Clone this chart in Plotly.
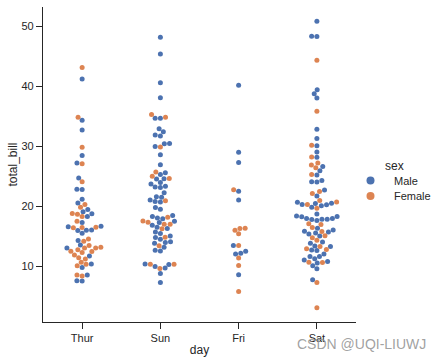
import numpy as np
import plotly.graph_objects as go

days = ["Thur", "Sun", "Fri", "Sat"]

thur_bill = [27.2, 22.76, 17.29, 19.44, 16.66, 10.07, 32.68, 15.98, 34.83, 13.03, 18.28, 24.71, 21.16,
             10.65, 12.43, 24.08, 11.69, 13.42, 14.26, 15.95, 12.48, 29.8, 8.52, 14.52, 11.38, 22.82,
             19.08, 20.27, 11.17, 12.26, 18.26, 8.51, 10.33, 14.15, 16.0, 13.16, 17.47, 34.3, 41.19,
             27.05, 16.43, 8.35, 18.64, 11.87, 9.78, 7.51,
             19.81, 28.44, 15.48, 16.58, 7.56, 10.34, 43.11, 13.0, 13.51, 18.71, 12.74, 13.0, 16.4,
             20.53, 16.47, 18.78]
thur_sex = ["M", "M", "M", "M", "M", "F", "M", "M", "F", "M", "M", "M", "M",
            "F", "F", "F", "M", "F", "M", "M", "F", "F", "M", "F", "F", "M",
            "M", "F", "F", "F", "F", "F", "F", "F", "M", "F", "F", "M", "M",
            "F", "F", "F", "F", "F", "M", "M",
            "F", "M", "M", "M", "M", "M", "F", "F", "M", "M", "F", "F", "F",
            "M", "F", "F"]

sun_bill = [16.99, 10.34, 21.01, 23.68, 24.59, 25.29, 8.77, 26.88, 15.04, 14.78, 10.27, 35.26, 15.42,
            18.43, 14.83, 21.58, 10.33, 16.29, 16.97,
            17.46, 13.94, 9.68, 30.4, 18.29, 22.23, 32.4, 28.55, 18.04, 12.54, 10.29, 34.81, 9.94,
            25.56, 19.49,
            38.07, 23.95, 25.71, 17.31, 29.93,
            14.07, 13.13, 17.26, 24.55, 19.77, 29.85, 48.17, 25.0, 13.39, 16.49, 21.5, 12.66, 16.21,
            13.81, 17.51, 24.52, 20.76, 31.71,
            7.25, 31.85, 16.82, 32.9, 17.89, 14.48, 9.6, 34.63, 34.65, 23.33, 45.35, 23.17, 40.55,
            20.69, 20.9, 30.46, 18.15, 23.1, 15.69]
sun_sex = ["F", "M", "M", "M", "F", "M", "M", "M", "M", "M", "M", "F", "M",
           "M", "F", "M", "F", "M", "F",
           "M", "M", "M", "M", "M", "M", "M", "M", "M", "M", "F", "F", "M",
           "M", "M",
           "M", "M", "F", "F", "M",
           "M", "M", "M", "M", "M", "F", "M", "F", "F", "M", "M", "M", "F",
           "M", "F", "M", "M", "M",
           "M", "M", "M", "M", "M", "M", "F", "M", "M", "M", "M", "M", "M",
           "M", "F", "M", "F", "M", "M"]

fri_bill = [28.97, 22.49, 5.75, 16.32, 22.75, 40.17, 27.28, 12.03, 21.01, 12.46, 11.35, 15.38,
            12.16, 13.42, 8.58, 15.98, 13.42, 16.27, 10.09]
fri_sex = ["M", "M", "F", "F", "F", "M", "M", "M", "M", "M", "F", "F",
           "M", "F", "M", "F", "M", "F", "F"]

sat_bill = [20.65, 17.92, 20.29, 15.77, 39.42, 19.82, 17.81, 13.37, 12.69, 21.7, 19.65, 9.55, 18.35,
            15.06, 20.69, 17.78, 24.06, 16.31, 16.93, 18.69, 31.27, 16.04,
            38.01, 26.41, 11.24, 48.27, 20.29, 13.81, 11.02, 18.29, 17.59, 20.08, 16.45, 3.07, 20.23,
            15.01, 12.02, 17.07, 26.86, 25.28, 14.73, 10.51, 17.92,
            44.3, 22.42, 20.92, 15.36, 20.49, 25.21, 18.24, 14.31, 14.0, 7.25,
            10.59, 10.63, 50.81, 15.81,
            26.59, 38.73, 24.27, 12.76, 30.06, 25.89, 48.33, 13.27, 28.17, 12.9, 28.15, 11.59, 7.74,
            30.14,
            20.45, 13.28, 22.12, 24.01, 15.69, 11.61, 10.77, 15.53, 10.07, 12.6, 32.83, 35.83, 29.03,
            27.18, 22.67, 17.82]
sat_sex = ["M", "M", "F", "F", "M", "M", "M", "M", "M", "M", "F", "M", "M",
           "F", "F", "M", "M", "M", "F", "M", "M", "M",
           "M", "F", "M", "M", "M", "M", "M", "M", "M", "M", "F", "F", "M",
           "M", "M", "F", "F", "F", "F", "M", "M",
           "F", "F", "F", "M", "M", "M", "M", "F", "M", "F",
           "F", "F", "M", "M",
           "M", "M", "M", "F", "M", "M", "M", "F", "F", "F", "M", "M", "M",
           "F",
           "M", "M", "F", "M", "M", "M", "M", "M", "M", "M", "M", "F", "M",
           "F", "M", "M"]

bills = [thur_bill, sun_bill, fri_bill, sat_bill]
sexes = [thur_sex, sun_sex, fri_sex, sat_sex]

y_ticks = [10, 20, 30, 40, 50]
legend_keys = ["M", "F"]
sex_labels = {"M": "Male", "F": "Female"}
legend_title = "sex"
colors = {"M": "#4C72B0", "F": "#DD8452"}

# ---- layout geometry ----
W, H = 438, 362
ML, MR, MT, MB = 43, 82, 7, 40
plot_w = W - ML - MR
plot_h = H - MT - MB

all_vals = np.concatenate([np.asarray(b, float) for b in bills])
lo, hi = all_vals.min(), all_vals.max()
pad = 0.05 * (hi - lo)
y_range = [lo - pad, hi + pad]
px_per_unit = plot_h / (y_range[1] - y_range[0])
px_per_cat = plot_w / 4.0
R = 2.5  # marker radius in px


def beeswarm(values):
    """seaborn-style beeswarm: returns x offsets (px) for each value."""
    ys = np.asarray(values, float) * px_per_unit
    order = np.argsort(ys, kind="stable")
    placed = []  # list of (x, y)
    offs = np.zeros(len(ys))
    for idx in order:
        y_i = ys[idx]
        neighbors = []
        for (xj, yj) in reversed(placed):
            if (y_i - yj) < 2 * R:
                neighbors.append((xj, yj))
            else:
                break
        cands = [0.0]
        left_first = True
        for (xj, yj) in neighbors:
            dy = y_i - yj
            dx = np.sqrt(max((2 * R) ** 2 - dy ** 2, 0)) * 1.05
            pair = [xj - dx, xj + dx] if left_first else [xj + dx, xj - dx]
            cands.extend(pair)
            left_first = not left_first
        cands = sorted(cands, key=lambda c: abs(c))
        chosen = cands[0]
        if neighbors:
            for c in cands:
                ok = all((xj - c) ** 2 + (yj - y_i) ** 2 >= (2 * R) ** 2 - 1e-9
                         for (xj, yj) in neighbors)
                if ok:
                    chosen = c
                    break
        placed.append((chosen, y_i))
        offs[idx] = chosen
    return offs


xs = {"M": [], "F": []}
ys = {"M": [], "F": []}
for i, (b, s) in enumerate(zip(bills, sexes)):
    offs = beeswarm(b)
    for v, sx, o in zip(b, s, offs):
        xs[sx].append(i + o / px_per_cat)
        ys[sx].append(v)

fig = go.Figure()
for key in legend_keys:
    fig.add_trace(go.Scatter(
        x=xs[key], y=ys[key], mode="markers", name=sex_labels[key],
        marker=dict(size=2 * R, color=colors[key], line=dict(width=0)),
        showlegend=False,
    ))

axis_col = "#262626"
font_family = "Liberation Sans, Arial, sans-serif"


def px_x(px):
    return (px - ML) / plot_w


def px_y(py):
    return (H - MB - py) / plot_h


# custom legend (matplotlib-like compact spacing)
shapes = []
annotations = [dict(
    text=legend_title, xref="paper", yref="paper", x=px_x(394.5), y=px_y(166),
    xanchor="center", yanchor="middle", showarrow=False, font=dict(size=12),
)]
for k, key in enumerate(legend_keys):
    cy = 180.5 + 15.5 * k
    shapes.append(dict(
        type="circle", xref="paper", yref="paper",
        xsizemode="pixel", ysizemode="pixel",
        xanchor=px_x(370.5), yanchor=px_y(cy),
        x0=-4, x1=4, y0=-4, y1=4,
        fillcolor=colors[key], line=dict(width=0),
    ))
    annotations.append(dict(
        text=sex_labels[key], xref="paper", yref="paper", x=px_x(392.5), y=px_y(cy),
        xanchor="left", yanchor="middle", showarrow=False, font=dict(size=11),
    ))

annotations.append(dict(
    text="CSDN @UQI-LIUWJ", xref="paper", yref="paper",
    x=px_x(361.5), y=px_y(344),
    xanchor="center", yanchor="middle", showarrow=False,
    font=dict(size=14, color="rgba(150,150,150,0.9)", family=font_family),
))

fig.update_layout(
    width=W, height=H,
    margin=dict(l=ML, r=MR, t=MT, b=MB, pad=0, autoexpand=False),
    paper_bgcolor="white", plot_bgcolor="white",
    font=dict(family=font_family, color=axis_col, size=11),
    showlegend=False,
    xaxis=dict(
        range=[-0.5, 3.5], tickvals=[0, 1, 2, 3], ticktext=days,
        showline=True, linecolor=axis_col, linewidth=1.25,
        ticks="outside", ticklen=6, tickwidth=1.25, tickcolor=axis_col,
        showgrid=False, zeroline=False, tickfont=dict(size=11), automargin=False,
        title=dict(text="day", font=dict(size=12), standoff=2),
    ),
    yaxis=dict(
        range=y_range, tickvals=y_ticks,
        showline=True, linecolor=axis_col, linewidth=1.25,
        ticks="outside", ticklen=6, tickwidth=1.25, tickcolor=axis_col,
        showgrid=False, zeroline=False, tickfont=dict(size=11), automargin=False,
        title=dict(text="total_bill", font=dict(size=12), standoff=1),
    ),
    shapes=shapes,
    annotations=annotations,
)

fig.write_html("out.html", config={"displayModeBar": False},
               post_script="document.body.style.margin='0';")
